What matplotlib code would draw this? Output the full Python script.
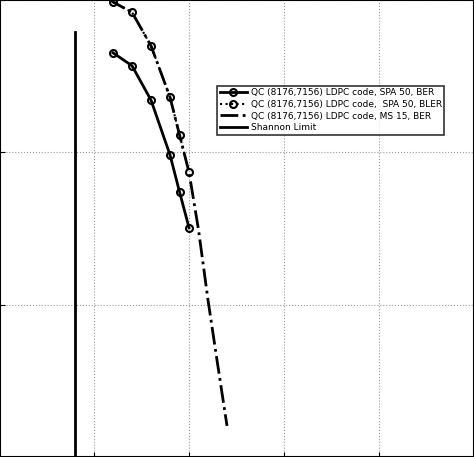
import matplotlib
matplotlib.use("Agg")
import matplotlib.pyplot as plt
import numpy as np

snr = [3.6, 3.7, 3.8, 3.9, 3.95, 4.0]
spa_ber = [4.5e-3, 3.7e-3, 2.2e-3, 9.6e-4, 5.5e-4, 3.2e-4]
spa_bler = [9.7e-3, 8.3e-3, 5.0e-3, 2.3e-3, 1.3e-3, 7.4e-4]
ms_snr = [3.55, 3.6, 3.7, 3.8, 3.9, 3.95, 4.0, 4.05, 4.1, 4.15, 4.2]
ms_ber = [1.1e-2, 9.7e-3, 8.3e-3, 5.0e-3, 2.3e-3, 1.3e-3, 7.4e-4, 3.1e-4, 1.07e-4, 4.1e-5, 1.6e-5]
shannon_x = [3.4, 3.4]
shannon_y = [6.2e-3, 1e-6]

fig = plt.figure(figsize=(4.74, 4.57), dpi=100)
ax = fig.add_axes([0, 0, 1, 1])
ax.set_yscale("log")
ax.plot(snr, spa_ber, "k-o", lw=2, ms=5, mfc="none", mew=1.5,
        label="QC (8176,7156) LDPC code, SPA 50, BER")
ax.plot(snr, spa_bler, "k:o", lw=1.5, ms=5, mfc="none", mew=1.5,
        label="QC (8176,7156) LDPC code,  SPA 50, BLER")
ax.plot(ms_snr, ms_ber, "k-.", lw=2,
        label="QC (8176,7156) LDPC code, MS 15, BER")
ax.plot(shannon_x, shannon_y, "k-", lw=2, label="Shannon Limit")
ax.set_xlim(3.005, 5.5)
ax.set_ylim(1e-5, 1e-2)
ax.set_xticks([3.5, 4.0, 4.5, 5.0])
ax.grid(True, which="major", ls=":", color="#999999", lw=0.8)
ax.minorticks_off()
ax.tick_params(labelleft=False, labelbottom=False, direction="in")
for s in ax.spines.values():
    s.set_linewidth(1.5)
leg = ax.legend(loc="upper right", bbox_to_anchor=(449/474, 1-81/457),
                bbox_transform=fig.transFigure, fontsize=6.5, frameon=True,
                fancybox=False, edgecolor="black", handlelength=3,
                borderpad=0.3, labelspacing=0.3, handletextpad=0.4)
leg.get_frame().set_linewidth(1.2)
fig.savefig("out.png", dpi=100)
